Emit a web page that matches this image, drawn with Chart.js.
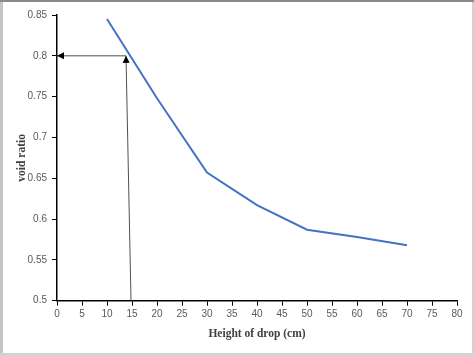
<!DOCTYPE html>
<html>
<head>
<meta charset="utf-8">
<script src="https://cdn.jsdelivr.net/npm/chart.js@4"></script>
<style>
html,body{margin:0;padding:0;background:#fff;}
#wrap{width:474px;height:356px;position:relative;}
</style>
</head>
<body>
<div id="wrap"><canvas id="c" width="474" height="356"></canvas></div>
<script>
const heights = [10, 20, 30, 40, 50, 60, 70];
const voidRatios = [0.845, 0.748, 0.657, 0.617, 0.587, 0.578, 0.568];
const xTickLabels = ['0','5','10','15','20','25','30','35','40','45','50','55','60','65','70','75','80'];
const yTickLabels = ['0.5','0.55','0.6','0.65','0.7','0.75','0.8','0.85'];
const arrowVertical = [[14.8, 0.5], [13.8, 0.8]];
const arrowHorizontal = [[13.8, 0.8], [0, 0.8]];

const points = heights.map((h, i) => ({x: h, y: voidRatios[i]}));

function head(ctx, x1, y1, x2, y2) {
  const a = Math.atan2(y2 - y1, x2 - x1);
  const L = 7, W = 3.5;
  ctx.beginPath();
  ctx.moveTo(x2, y2);
  ctx.lineTo(x2 - L*Math.cos(a) + W*Math.sin(a), y2 - L*Math.sin(a) - W*Math.cos(a));
  ctx.lineTo(x2 - L*Math.cos(a) - W*Math.sin(a), y2 - L*Math.sin(a) + W*Math.cos(a));
  ctx.closePath();
  ctx.fill();
}

const framePlugin = {
  id: 'frame',
  beforeDraw(chart) {
    const ctx = chart.ctx;
    ctx.save();
    ctx.fillStyle = '#ffffff';
    ctx.fillRect(0, 0, 474, 356);
    ctx.fillStyle = '#c4c4c4';
    ctx.fillRect(0, 0, 3, 356);
    ctx.fillStyle = '#d2d2d2';
    ctx.fillRect(472, 0, 2, 356);
    ctx.fillRect(0, 353, 474, 3);
    ctx.fillStyle = '#8a8a8a';
    ctx.fillRect(0, 0, 474, 2);
    ctx.restore();
  }
};

const arrowPlugin = {
  id: 'arrows',
  afterDatasetsDraw(chart) {
    const ctx = chart.ctx, xs = chart.scales.x, ys = chart.scales.y;
    ctx.save();
    ctx.strokeStyle = '#505050';
    ctx.fillStyle = '#000000';
    ctx.lineWidth = 1;
    [arrowVertical, arrowHorizontal].forEach(seg => {
      const x1 = xs.getPixelForValue(seg[0][0]), y1 = ys.getPixelForValue(seg[0][1]);
      const x2 = xs.getPixelForValue(seg[1][0]), y2 = ys.getPixelForValue(seg[1][1]);
      ctx.beginPath();
      ctx.moveTo(x1, y1);
      ctx.lineTo(x2, y2);
      ctx.stroke();
      head(ctx, x1, y1, x2, y2);
    });
    ctx.restore();
  }
};

new Chart(document.getElementById('c'), {
  type: 'scatter',
  data: {
    datasets: [{
      data: points,
      showLine: true,
      borderColor: '#4472C4',
      borderWidth: 2,
      pointRadius: 0,
      fill: false,
      tension: 0
    }]
  },
  options: {
    responsive: false,
    animation: false,
    devicePixelRatio: 1,
    layout: {padding: {left: 15, top: 15, right: 17, bottom: 15}},
    plugins: {legend: {display: false}, tooltip: {enabled: false}},
    scales: {
      x: {
        type: 'linear',
        min: 0, max: 80,
        afterBuildTicks(s) { s.ticks = xTickLabels.map(v => ({value: Number(v)})); },
        afterFit(s) { s.height = 40.3; },
        border: {display: true, color: '#000000', width: 1.5},
        grid: {display: true, drawOnChartArea: false, drawTicks: true, tickLength: 5, color: '#000000'},
        ticks: {
          color: '#595959', padding: 3, maxRotation: 0, autoSkip: false,
          font: {family: 'Liberation Sans', size: 10},
          callback: (v, i) => xTickLabels[i]
        },
        title: {
          display: true, text: 'Height of drop (cm)', color: '#404040',
          font: {family: 'Liberation Serif', size: 11.5, weight: 'bold'},
          padding: {top: 4, bottom: 0}
        }
      },
      y: {
        type: 'linear',
        min: 0.5, max: 0.85,
        afterBuildTicks(s) { s.ticks = yTickLabels.map(v => ({value: Number(v)})); },
        afterFit(s) { s.width = 42; },
        border: {display: true, color: '#000000', width: 1.5},
        grid: {display: true, drawOnChartArea: false, drawTicks: true, tickLength: 5, color: '#000000'},
        ticks: {
          color: '#595959', padding: 5, autoSkip: false,
          font: {family: 'Liberation Sans', size: 10},
          callback: (v, i) => yTickLabels[i]
        },
        title: {
          display: true, text: 'void ratio', color: '#404040',
          font: {family: 'Liberation Serif', size: 11.5, weight: 'bold'},
          padding: 0
        }
      }
    }
  },
  plugins: [framePlugin, arrowPlugin]
});
</script>
</body>
</html>
